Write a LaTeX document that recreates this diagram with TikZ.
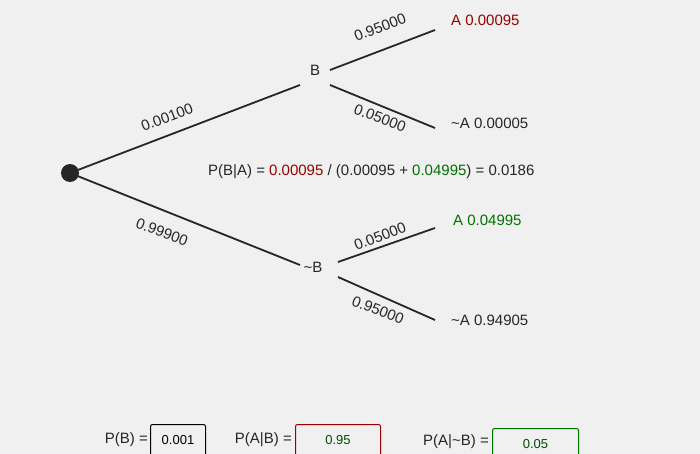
\documentclass[tikz,border=0pt]{standalone}
\usepackage{fontspec}
\setmainfont{Liberation Sans}
\begin{document}
\begin{tikzpicture}[x=1pt,y=-1pt,
  br/.style={line width=1.8pt,black!85},
  lab/.style={font=\fontsize{15}{17}\selectfont,text=black!85,inner sep=1pt},
  red/.style={text=red!60!black},
  grn/.style={text=green!45!black},
  box/.style={draw,line width=1pt,rounded corners=2pt,minimum width=55pt,minimum height=32pt,anchor=north west,font=\fontsize{13}{15}\selectfont}]
\fill[gray!12] (0,0) rectangle (700,454);
\useasboundingbox (0,0) rectangle (700,454);
\fill[black!85] (70,173) circle (9);
\coordinate (r) at (70,173);
\coordinate (u) at (300,85);
\coordinate (l) at (300,265);
\coordinate (u1) at (330,70); \coordinate (u1e) at (435,30);
\coordinate (u2) at (330,85); \coordinate (u2e) at (435,128);
\coordinate (l1) at (338,262); \coordinate (l1e) at (435,228);
\coordinate (l2) at (338,277); \coordinate (l2e) at (435,320);
\draw[br] (r)--(u); \draw[br] (r)--(l);
\draw[br] (u1)--(u1e); \draw[br] (u2)--(u2e);
\draw[br] (l1)--(l1e); \draw[br] (l2)--(l2e);
\node[lab] (B) at (315,70) {B};
\node[lab] (nB) at (313,267) {\textasciitilde B};
\node[lab,rotate=21] (p1) at (167,117) {0.00100};
\node[lab,rotate=-21] (p2) at (162,232) {0.99900};
\node[lab,rotate=21] (p3) at (380,27) {0.95000};
\node[lab,rotate=-21] (p4) at (380,118) {0.05000};
\node[lab,rotate=21] (p5) at (380,236) {0.05000};
\node[lab,rotate=-21] (p6) at (378,310) {0.95000};
\node[lab,red,anchor=west] (a1) at (450,20) {A 0.00095};
\node[lab,anchor=west] (a2) at (450,123) {\textasciitilde A 0.00005};
\node[lab,grn,anchor=west] (a3) at (452,220) {A 0.04995};
\node[lab,anchor=west] (a4) at (450,320) {\textasciitilde A 0.94905};
\node[lab,anchor=west] (f) at (207,172) {P(B|A) = {\color{red!60!black}0.00095} / (0.00095 + {\color{green!45!black}0.04995}) = 0.0186};
\node[lab,anchor=east] (t1) at (149,440) {P(B) =};
\node[box] (b1) at (150,424) {0.001};
\node[lab,anchor=east] (t2) at (293,440) {P(A|B) =};
\node[box,draw=red!60!black,minimum width=85pt,text=green!30!black] (b2) at (295,424) {0.95};
\node[lab,anchor=east] (t3) at (490,442) {P(A|\textasciitilde B) =};
\node[box,draw=green!45!black,minimum width=86pt,text=green!30!black] (b3) at (492,428) {0.05};
\end{tikzpicture}
\end{document}
